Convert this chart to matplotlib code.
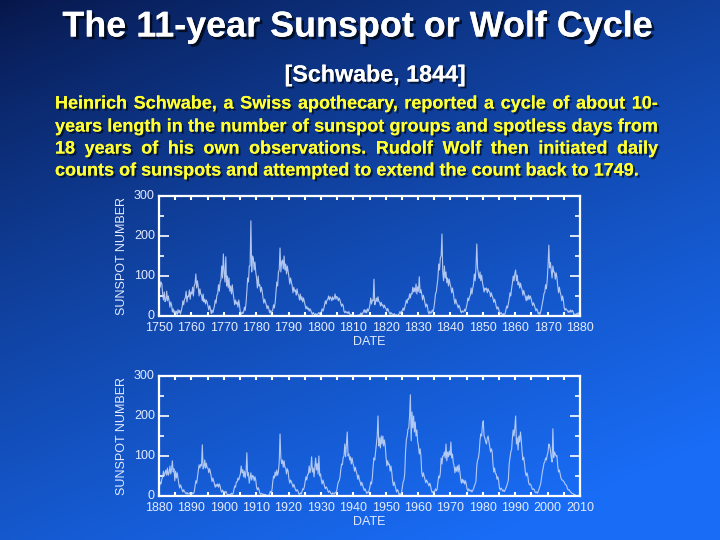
import numpy as np
import matplotlib
matplotlib.use("Agg")
import matplotlib.pyplot as plt
import matplotlib.patheffects as pe
import matplotlib.transforms as mtransforms

plt.rcParams['font.family'] = ['Liberation Sans', 'DejaVu Sans']

# ---------------- data (quarterly sunspot numbers) ----------------
start_early = 1749
sunspots_early = [
    70, 100, 62, 88,   95, 72, 85, 80,   55, 40, 60, 36,   40, 62, 38, 50,   38, 22, 35, 28,   # 1749-1753
    10, 18, 8, 13,     5, 12, 3, 16,     8, 14, 5, 13,     22, 38, 28, 42,   45, 62, 35, 50,   # 1754-1758
    48, 65, 42, 60,    55, 72, 50, 75,   80, 105, 70, 88,  72, 50, 68, 55,   52, 38, 55, 35,   # 1759-1763
    42, 30, 40, 34,    25, 15, 26, 18,   6, 15, 8, 16,     25, 40, 32, 52,   55, 78, 62, 85,   # 1764-1768
    90, 125, 95, 155,  110, 85, 148, 75, 100, 70, 95, 62,  75, 55, 78, 58,   42, 28, 40, 30,   # 1769-1773
    35, 22, 40, 26,    8, 4, 10, 6,      10, 22, 14, 32,   60, 95, 85, 125,  125, 238, 110, 150,  # 1774-1778
    145, 115, 135, 110, 95, 70, 100, 75, 78, 60, 72, 62,   45, 32, 42, 35,   28, 18, 26, 20,   # 1779-1783
    8, 14, 6, 12,      15, 28, 20, 34,   60, 85, 75, 110,  115, 170, 110, 135, 140, 118, 150, 115,  # 1784-1788
    130, 105, 125, 112, 98, 80, 95, 85,  75, 58, 72, 62,   65, 52, 68, 55,   52, 40, 55, 40,   # 1789-1793
    48, 35, 45, 36,    26, 18, 24, 17,   20, 12, 18, 14,   8, 4, 9, 5,       3, 6, 2, 5,       # 1794-1798
    5, 9, 4, 9,        10, 18, 12, 18,   28, 38, 30, 40,   42, 50, 40, 48,   45, 38, 48, 41,   # 1799-1803
    44, 55, 42, 49,    46, 38, 45, 40,   32, 24, 30, 26,   12, 8, 12, 8,     10, 6, 11, 5,     # 1804-1808
    3, 1, 4, 2,        0, 0, 0, 0,       0, 2, 1, 3,       3, 8, 2, 7,       10, 16, 8, 15,    # 1809-1813
    8, 18, 12, 18,     28, 45, 30, 40,   38, 92, 28, 35,   45, 36, 48, 36,   35, 25, 34, 26,   # 1814-1818
    28, 20, 27, 21,    18, 12, 19, 13,   8, 4, 9, 5,       5, 2, 6, 3,       1, 3, 0, 3,       # 1819-1823
    5, 11, 6, 12,      12, 20, 14, 21,   30, 40, 32, 43,   42, 55, 45, 57,   55, 72, 60, 70,   # 1824-1828
    60, 80, 55, 73,    62, 98, 58, 66,   55, 40, 52, 44,   32, 22, 30, 26,   10, 5, 12, 7,     # 1829-1833
    8, 15, 10, 20,     35, 55, 60, 78,   95, 130, 115, 146, 150, 205, 110, 88, 125, 95, 110, 83,  # 1834-1838
    95, 75, 92, 80,    72, 58, 70, 58,   42, 30, 42, 33,   28, 20, 27, 22,   12, 8, 13, 10,    # 1839-1843
    10, 17, 12, 21,    30, 45, 38, 48,   52, 70, 55, 69,   80, 105, 88, 121, 180, 120, 105, 94,  # 1844-1848
    110, 88, 102, 85,  72, 60, 70, 65,   70, 58, 68, 62,   60, 48, 58, 50,   45, 34, 42, 35,   # 1849-1853
    24, 17, 23, 18,    8, 5, 9, 5,       3, 6, 2, 6,       15, 25, 20, 31,   42, 58, 50, 69,   # 1854-1858
    82, 100, 88, 105,  115, 88, 102, 78, 85, 70, 82, 72,   65, 52, 64, 55,   48, 38, 50, 40,   # 1859-1863
    52, 42, 50, 44,    35, 26, 33, 28,   20, 13, 18, 14,   5, 9, 4, 11,      20, 32, 42, 56,   # 1864-1868
    60, 78, 68, 90,    125, 177, 120, 134, 115, 95, 125, 110, 110, 92, 108, 97, 75, 58, 72, 60,  # 1869-1873
    52, 38, 50, 39,    20, 14, 19, 15,   14, 9, 13, 9,     15, 10, 14, 11,   2, 5, 1, 6,       # 1874-1878
    3, 8, 4, 9,                                                                                 # 1879
]

start_late = 1880
sunspots_late = [
    22, 35, 30, 42,    48, 62, 50, 57,   65, 52, 70, 52,   58, 75, 55, 67,   88, 60, 68, 38,   # 1880-1884
    62, 45, 58, 44,    30, 20, 28, 23,   15, 10, 16, 11,   8, 5, 9, 5,       5, 8, 4, 8,       # 1885-1889
    4, 8, 6, 10,       25, 38, 32, 48,   65, 78, 70, 79,   75, 128, 68, 72,  90, 70, 82, 70,   # 1890-1894
    70, 58, 68, 60,    48, 36, 45, 38,   30, 22, 29, 24,   30, 22, 30, 25,   14, 9, 15, 10,    # 1895-1899
    11, 7, 12, 8,      2, 4, 1, 4,       3, 7, 4, 6,       15, 25, 22, 35,   35, 45, 40, 48,   # 1900-1904
    55, 75, 58, 66,    48, 62, 45, 60,   108, 50, 58, 32,  45, 58, 40, 51,   50, 38, 48, 40,   # 1905-1909
    22, 15, 21, 16,    7, 4, 7, 5,       3, 5, 2, 4,       1, 2, 1, 2,       5, 12, 8, 14,     # 1910-1914
    35, 50, 45, 60,    50, 65, 52, 61,   85, 155, 95, 81,  90, 72, 88, 72,   70, 55, 68, 62,   # 1915-1919
    42, 32, 40, 36,    30, 22, 29, 23,   16, 12, 16, 13,   6, 4, 8, 5,       10, 18, 16, 23,   # 1920-1924
    35, 48, 40, 54,    55, 75, 58, 68,   98, 60, 70, 48,   70, 95, 65, 81,   55, 100, 50, 55,  # 1925-1929
    40, 30, 40, 33,    24, 18, 23, 20,   13, 9, 13, 10,    6, 4, 8, 5,       5, 9, 8, 13,      # 1930-1934
    25, 35, 38, 46,    65, 80, 78, 96,   100, 130, 98, 130, 160, 100, 105, 90, 98, 80, 95, 82,  # 1935-1939
    75, 62, 72, 62,    55, 42, 52, 41,   35, 26, 34, 28,   20, 14, 18, 13,   6, 10, 8, 14,     # 1940-1944
    22, 35, 30, 46,    75, 95, 90, 111,  130, 150, 200, 125, 145, 120, 150, 130, 150, 125, 140, 124,  # 1945-1949
    95, 75, 88, 78,    80, 62, 75, 60,   38, 26, 35, 27,   18, 10, 16, 12,   2, 6, 3, 7,       # 1950-1954
    22, 35, 40, 55,    110, 140, 150, 167, 170, 200, 253, 138, 210, 170, 200, 160, 185, 150, 165, 136,  # 1955-1959
    125, 105, 118, 101, 60, 48, 58, 50,  42, 33, 40, 35,   30, 25, 32, 25,   14, 8, 12, 7,     # 1960-1964
    12, 18, 13, 17,    35, 50, 45, 58,   95, 80, 100, 100, 110, 95, 130, 88,  110, 98, 112, 102,  # 1965-1969
    135, 95, 105, 83,  75, 58, 72, 62,   75, 60, 78, 63,   45, 32, 42, 33,   40, 30, 38, 30,   # 1970-1974
    18, 12, 18, 14,    12, 15, 10, 14,   18, 25, 30, 37,   75, 90, 95, 110,  140, 155, 150, 177,  # 1975-1979
    188, 150, 145, 135, 130, 145, 150, 137, 125, 110, 118, 111, 80, 60, 70, 56, 55, 42, 48, 39,  # 1980-1984
    20, 15, 20, 17,    12, 15, 11, 15,   20, 25, 32, 40,   80, 95, 110, 116, 145, 165, 150, 170,  # 1985-1989
    200, 130, 145, 115, 150, 135, 160, 138, 110, 90, 97, 80, 60, 50, 58, 50, 34, 28, 30, 27,   # 1990-1994
    20, 16, 18, 16,    10, 8, 10, 7,     12, 18, 25, 31,   45, 60, 70, 82,   85, 95, 90, 103,  # 1995-1999
    110, 130, 125, 114, 95, 85, 168, 96, 110, 105, 100, 101, 75, 60, 65, 55, 45, 40, 40, 37,  # 2000-2004
    35, 30, 28, 26,    18, 15, 16, 12,   10, 8, 6, 6,      3, 4, 2,                           # 2005-2008
]

y_ticks = [0, 100, 200, 300]
early_ticks = list(range(1750, 1881, 10))
late_ticks = list(range(1880, 2011, 10))

title = "The 11-year Sunspot or Wolf Cycle"
subtitle = "[Schwabe, 1844]"
para_lines = [
    "Heinrich Schwabe, a Swiss apothecary, reported a cycle of about 10-",
    "years length in the number of sunspot groups and spotless days from",
    "18 years of his own observations. Rudolf Wolf then initiated daily",
    "counts of sunspots and attempted to extend the count back to 1749.",
]

# ---------------- figure & background ----------------
W, H = 720, 540
fig = plt.figure(figsize=(7.2, 5.4), dpi=100)
bg = fig.add_axes([0, 0, 1, 1])
bg.axis('off')
yy, xx = np.mgrid[0:1:270j, 0:1:360j]
t = np.clip((0.45 * xx + 0.8 * yy) / 1.1, 0, 1) ** 0.8
c0 = np.array([7, 22, 72]) / 255.0
c1 = np.array([25, 108, 245]) / 255.0
img = c0 + (c1 - c0) * t[..., None]
bg.imshow(img, extent=[0, 1, 0, 1], origin='upper', aspect='auto')
bg.set_xlim(0, 1)
bg.set_ylim(0, 1)

renderer = fig.canvas.get_renderer()
shadow = [pe.withSimplePatchShadow(offset=(1.5, -1.5), shadow_rgbFace='#000814', alpha=0.7), pe.Normal()]


def fx(px):
    return px / W


def fy(py):
    return 1 - py / H


def fitted_text(s, cx, cy, width_px, color, ha='center', **kw):
    tt = fig.text(fx(cx), fy(cy), s, color=color, ha=ha, va='center', fontsize=20, **kw)
    w = tt.get_window_extent(renderer).width
    tt.set_fontsize(20 * width_px / w)
    return tt


tt = fitted_text(title, 357, 27, 590, 'white', fontweight='bold')
tt.set_path_effects([pe.withSimplePatchShadow(offset=(2, -2), shadow_rgbFace='#000814', alpha=0.8), pe.Normal()])
st = fitted_text(subtitle, 375, 75, 181, 'white', fontweight='bold')
st.set_path_effects(shadow)

# paragraph: font size fitted on the last (non-justified) line
probe = fig.text(0, 0, para_lines[3], fontsize=12, fontweight='bold')
pw = probe.get_window_extent(renderer).width
probe.remove()
psize = 12 * 582 / pw
x_left, x_right = 55, 658
line_y = [104, 127, 149, 171]
for i, line in enumerate(para_lines):
    if i < 3:
        words = line.split(' ')
        widths = []
        objs = []
        for w_ in words:
            o = fig.text(0, fy(line_y[i]), w_, fontsize=psize, fontweight='bold', color='#ffff33',
                         va='center', ha='left')
            widths.append(o.get_window_extent(renderer).width)
            objs.append(o)
        gap = (x_right - x_left - sum(widths)) / (len(words) - 1)
        x = x_left
        for o, wd in zip(objs, widths):
            o.set_x(fx(x))
            o.set_path_effects(shadow)
            x += wd + gap
    else:
        o = fig.text(fx(x_left), fy(line_y[i]), line, fontsize=psize, fontweight='bold', color='#ffff33',
                     va='center', ha='left')
        o.set_path_effects(shadow)

# ---------------- panels ----------------
label_col = '#e4ebff'
lift = mtransforms.ScaledTranslation(0, 1.2 / 72, fig.dpi_scale_trans)


def panel(top_px, start, values, ticks):
    ax = fig.add_axes([fx(159), fy(top_px + 120), 421 / W, 120 / H])
    ax.set_facecolor('none')
    tvals = start + (np.arange(len(values)) + 0.5) / 4.0
    ax.plot(tvals, values, color='#c3d5f8', lw=0.8, alpha=0.9)
    ax.set_xlim(ticks[0], ticks[-1])
    ax.set_ylim(0, 300)
    ax.set_xticks(ticks)
    ax.set_xticks(np.arange(ticks[0], ticks[-1] + 1, 5), minor=True)
    ax.set_yticks(y_ticks)
    ax.set_yticks([50, 150, 250], minor=True)
    for s in ax.spines.values():
        s.set_color('white')
        s.set_linewidth(1.6)
    ax.tick_params(which='both', direction='in', top=True, right=True, colors='white',
                   labelcolor=label_col, labelsize=9)
    ax.tick_params(axis='y', which='major', length=7, width=1.2, pad=3)
    ax.tick_params(axis='y', which='minor', length=3.5, width=1.2)
    ax.tick_params(axis='x', which='both', length=3, width=1.5, pad=4.5)
    for lab in ax.get_yticklabels():
        lab.set_transform(lab.get_transform() + lift)
    ax.set_xlabel('DATE', color=label_col, fontsize=9, labelpad=1.5)
    ax.set_ylabel('SUNSPOT NUMBER', color=label_col, fontsize=9, labelpad=4)
    return ax


panel(196, start_early, sunspots_early, early_ticks)
panel(376, start_late, sunspots_late, late_ticks)

fig.savefig('out.png', dpi=100)
